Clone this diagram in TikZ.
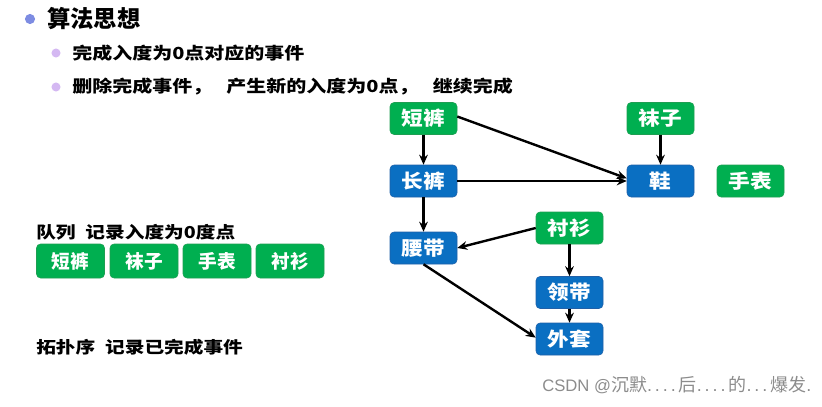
\documentclass[tikz,border=0pt]{standalone}
\usepackage{fontspec}
\usetikzlibrary{arrows.meta}
\newfontfamily\cjk{Noto Sans CJK SC}
\newfontfamily\cjkw[FakeStretch=1.2]{Noto Sans CJK SC}
\newfontfamily\cjkbox[FakeStretch=1.12]{Noto Sans CJK SC}
\newfontfamily\wmlat{Liberation Sans}
\newcommand\wmdot{{\wmlat .}\kern2.2pt}
\definecolor{gbox}{HTML}{00AF50}
\definecolor{gedge}{HTML}{1E9E52}
\definecolor{bbox}{HTML}{0A6FC2}
\definecolor{bedge}{HTML}{2060A8}
\definecolor{bull1}{HTML}{7D8CE2}
\definecolor{bull2}{HTML}{D4B8F2}
\tikzset{
  gnode/.style={draw=gedge, fill=gbox, rounded corners=3, minimum width=50.25pt, minimum height=24pt, inner sep=0, text=white, font=\cjkbox\bfseries\fontsize{14.5}{16}\selectfont},
  bnode/.style={gnode, draw=bedge, fill=bbox},
  qnode/.style={gnode, minimum width=51pt, minimum height=25.5pt, font=\cjk\bfseries\fontsize{14}{16}\selectfont},
  arr/.style={-{Stealth[length=7.5pt, width=6.5pt]}, line width=1.8pt, black},
  lbl/.style={anchor=west, inner sep=0, font=\cjkw\bfseries\fontsize{12.3}{14}\selectfont},
}
\begin{document}
\begin{tikzpicture}[x=0.75pt, y=-0.75pt]
\useasboundingbox (0,0) rectangle (822,407);
% header
\fill[bull1] (30,19) circle (3.8pt);
\node[anchor=west, inner sep=0, font=\cjk\bfseries\fontsize{17.5}{20}\selectfont] (h1) at (47,19) {算法思想};
\fill[bull2] (56,53) circle (3.4pt);
\node[anchor=west, inner sep=0, font=\cjkw\bfseries\fontsize{12.5}{15}\selectfont] (h2) at (72,53) {完成入度为0点对应的事件};
\fill[bull2] (56,87) circle (3.4pt);
\node[anchor=west, inner sep=0, font=\cjkw\bfseries\fontsize{12.5}{15}\selectfont] (h3) at (72,87) {删除完成事件，\hspace{0.85em}产生新的入度为0点，\hspace{0.85em}继续完成};
% graph
\node[gnode] (duanku) at (423.5,118.5) {短裤};
\node[gnode] (wazi) at (660.5,118.5) {袜子};
\node[bnode] (changku) at (423.5,181) {长裤};
\node[bnode] (xie) at (660.5,181) {鞋};
\node[gnode] (shoubiao) at (750.5,181) {手表};
\node[bnode] (yaodai) at (423.5,248) {腰带};
\node[gnode] (chenshan) at (569.5,228) {衬衫};
\node[bnode] (lingdai) at (569.5,292.5) {领带};
\node[bnode] (waitao) at (569.5,339) {外套};
\draw[arr] (duanku) -- (changku);
\draw[arr] ([yshift=1.5pt]duanku.east) -- ([yshift=2pt]xie.west);
\draw[arr] (wazi) -- (xie);
\draw[arr] (changku) -- (xie);
\draw[arr] (changku) -- (yaodai);
\draw[arr] (chenshan.west) -- (yaodai.east);
\draw[arr] (chenshan) -- (lingdai);
\draw[arr] (lingdai) -- (waitao);
\draw[arr] (yaodai.south) -- ([yshift=1pt]waitao.west);
% queue
\node[lbl] (qlabel) at (36,232) {队列\hspace{0.6em}记录入度为0度点};
\node[qnode] (q1) at (70.5,261) {短裤};
\node[qnode] (q2) at (144,261) {袜子};
\node[qnode] (q3) at (217,261) {手表};
\node[qnode] (q4) at (290,261) {衬衫};
\node[lbl] (tlabel) at (36,347) {拓扑序\hspace{0.6em}记录已完成事件};
% watermark
\node[anchor=west, inner sep=0, text=black!45, font=\cjk\fontsize{13.5}{15}\selectfont] (wm) at (542,385) {{\wmlat\fontsize{12.5}{14}\selectfont CSDN @}沉默\wmdot\wmdot\wmdot\wmdot 后\wmdot\wmdot\wmdot\wmdot 的\wmdot\wmdot\wmdot 爆发{\wmlat .}};
\end{tikzpicture}
\end{document}
